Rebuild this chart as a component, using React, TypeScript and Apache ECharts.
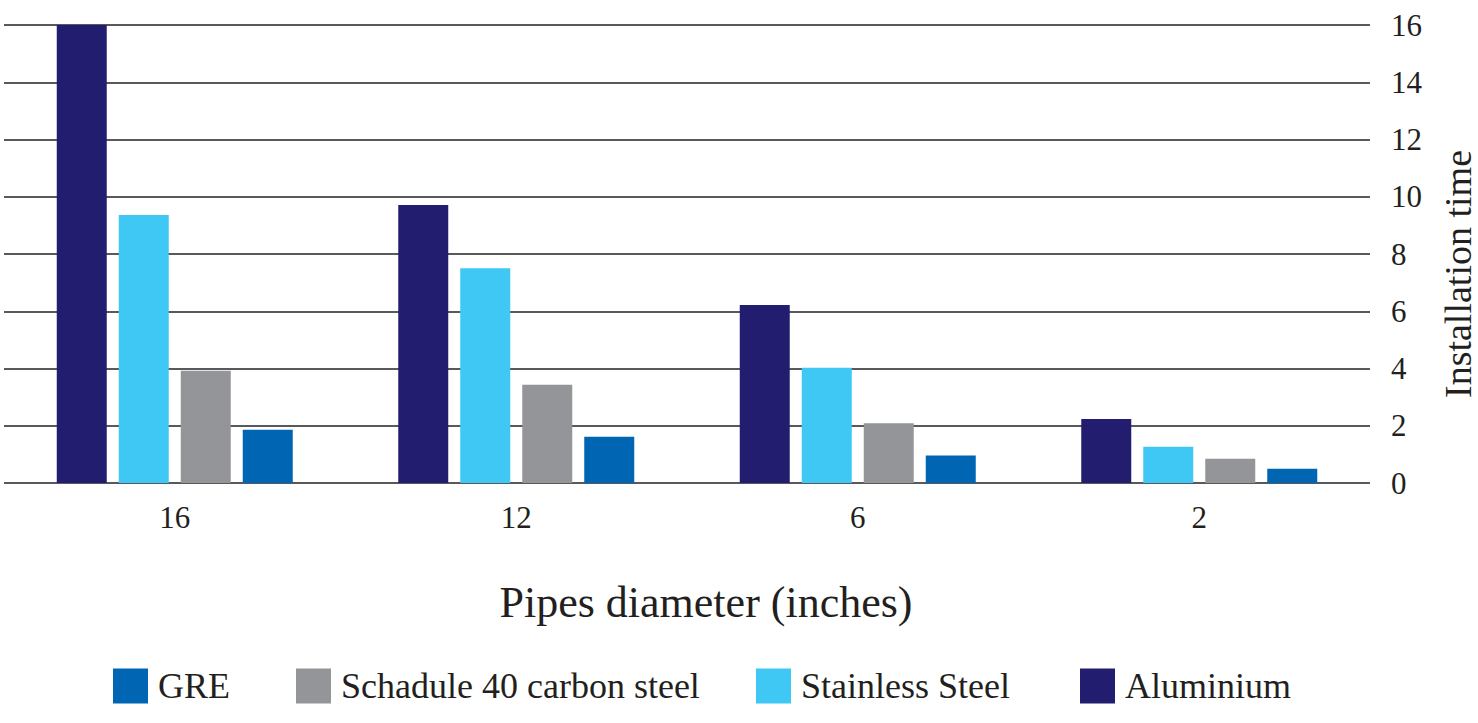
/**
 * PipeInstallationChart
 * Grouped bar chart comparing installation time per pipe diameter and material
 */
import { useEffect, useRef } from 'react'
import * as echarts from 'echarts'

// Pipe diameters (inches), left -> right
const DIAMETERS = ['16', '12', '6', '2']

// Installation time, per material, ordered like DIAMETERS
const ALUMINIUM = [16, 9.71, 6.22, 2.24]
const STAINLESS = [9.36, 7.5, 4.03, 1.27]
const SCHEDULE_40 = [3.92, 3.43, 2.09, 0.85]
const GRE = [1.86, 1.62, 0.96, 0.5]

const Y_TICKS = [0, 2, 4, 6, 8, 10, 12, 14, 16]

// Legend lists materials in the reverse of the bar order
const LEGEND_ORDER = ['GRE', 'Schadule 40 carbon steel', 'Stainless Steel', 'Aluminium']
// Left edge of each legend swatch (items are not evenly spaced in the original)
const LEGEND_LEFT = [113, 296, 756, 1080]

const COLORS = {
  aluminium: '#231d70',
  stainless: '#3ec8f3',
  schedule: '#939598',
  gre: '#0066b3',
}

const FONT = 'Liberation Serif'
const TEXT_COLOR = '#231f20'
const GRID_COLOR = '#58595b'

const App: React.FC = () => {
  const chartRef = useRef<HTMLDivElement | null>(null)

  useEffect(() => {
    if (!chartRef.current) return
    const chart = echarts.init(chartRef.current, null, { renderer: 'svg' })

    const bar = (name: string, data: number[], color: string) => ({
      name,
      type: 'bar' as const,
      data,
      barWidth: 50,
      barGap: '24%',
      itemStyle: { color },
    })

    const option: echarts.EChartsOption = {
      animation: false,
      backgroundColor: '#ffffff',
      textStyle: { fontFamily: FONT, color: TEXT_COLOR },
      // fixed plot box; don't let echarts shrink it to fit the axis names
      grid: { left: 4, right: 108, top: 25, bottom: 240, containLabel: false, outerBoundsMode: 'none' } as any,
      legend: LEGEND_ORDER.map((name, i) => ({
        data: [name],
        left: LEGEND_LEFT[i],
        top: 668,
        padding: 0,
        icon: 'rect',
        itemWidth: 35,
        itemHeight: 35,
        textStyle: { fontFamily: FONT, fontSize: 36, color: TEXT_COLOR, padding: [0, 0, 0, 5] },
      })),
      xAxis: {
        type: 'category',
        data: DIAMETERS,
        axisLine: { show: false },
        axisTick: { show: false },
        axisLabel: { fontFamily: FONT, fontSize: 31, color: TEXT_COLOR, margin: 19 },
        name: 'Pipes diameter (inches)',
        nameLocation: 'middle',
        nameGap: 97,
        nameTextStyle: { fontFamily: FONT, fontSize: 44, color: TEXT_COLOR, padding: [0, 0, 0, 38] },
      },
      yAxis: {
        type: 'value',
        position: 'right',
        min: Y_TICKS[0],
        max: Y_TICKS[Y_TICKS.length - 1],
        interval: 2,
        axisLine: { show: false },
        axisTick: { show: false },
        axisLabel: { fontFamily: FONT, fontSize: 31, color: TEXT_COLOR, margin: 21 },
        splitLine: { lineStyle: { color: GRID_COLOR, width: 2 } },
        name: 'Installation time',
        nameLocation: 'middle',
        nameRotate: 90,
        nameGap: 69,
        nameTextStyle: {
          fontFamily: FONT,
          fontSize: 38,
          lineHeight: 38,
          color: TEXT_COLOR,
          padding: [0, 40, 0, 0],
        },
      },
      series: [
        bar('Aluminium', ALUMINIUM, COLORS.aluminium),
        bar('Stainless Steel', STAINLESS, COLORS.stainless),
        bar('Schadule 40 carbon steel', SCHEDULE_40, COLORS.schedule),
        bar('GRE', GRE, COLORS.gre),
      ],
    }

    chart.setOption(option)

    return () => {
      chart.dispose()
    }
  }, [])

  return (
    <div
      ref={chartRef}
      style={{ position: 'fixed', left: 0, top: 0, width: 1478, height: 723, background: '#fff' }}
    />
  )
}

export default App
